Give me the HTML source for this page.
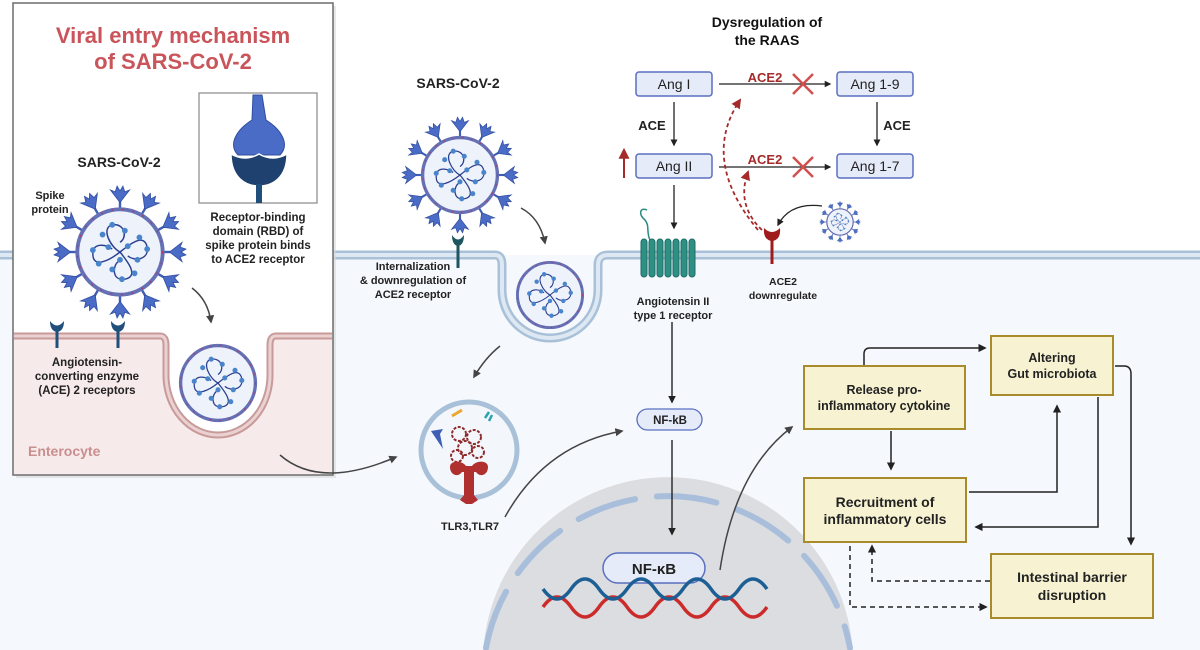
<!DOCTYPE html>
<html><head><meta charset="utf-8"><style>
html,body{margin:0;padding:0;background:#fff;width:1200px;height:650px;overflow:hidden;}
svg{display:block;font-family:"Liberation Sans",Arial,sans-serif;}
.b{font-weight:bold;}
</style></head><body>
<svg width="1200" height="650" viewBox="0 0 1200 650" xmlns="http://www.w3.org/2000/svg">
<defs>
<marker id="ah" viewBox="0 0 10 10" refX="8" refY="5" markerWidth="5.5" markerHeight="5.5" orient="auto"><path d="M0,0 L10,5 L0,10 z" fill="#222"/></marker>
<marker id="ahg" viewBox="0 0 10 10" refX="8" refY="5" markerWidth="5.5" markerHeight="5.5" orient="auto"><path d="M0,0 L10,5 L0,10 z" fill="#444"/></marker>
<marker id="ahr" viewBox="0 0 10 10" refX="8" refY="5" markerWidth="5.5" markerHeight="5.5" orient="auto"><path d="M0,0 L10,5 L0,10 z" fill="#a52a2a"/></marker>
<g id="spike"><line x1="0" y1="-45" x2="0" y2="-53" stroke="#3f5fb5" stroke-width="2.5"/><path d="M0,-51 L-10,-64 L-5,-62 L-3,-68 L0,-63 L3,-68 L5,-62 L10,-64 Z" fill="#4a6cc7" stroke="#2f4c9e" stroke-width="0.8"/></g>
<g id="virus">
<use href="#spike"/><use href="#spike" transform="rotate(30)"/><use href="#spike" transform="rotate(60)"/><use href="#spike" transform="rotate(90)"/><use href="#spike" transform="rotate(120)"/><use href="#spike" transform="rotate(150)"/><use href="#spike" transform="rotate(180)"/><use href="#spike" transform="rotate(210)"/><use href="#spike" transform="rotate(240)"/><use href="#spike" transform="rotate(270)"/><use href="#spike" transform="rotate(300)"/><use href="#spike" transform="rotate(330)"/>
<use href="#vcore"/>
</g>
<g id="vcore">
<circle r="44" fill="#eef3fb" stroke="#6570b5" stroke-width="4"/>
<circle r="44" fill="none" stroke="#b0366a" stroke-width="1.2" stroke-dasharray="2 9"/>
<g fill="none" stroke="#2b3f8f" stroke-width="1.5">
<path d="M0,0 C-10,-5 -20,-25 -8,-28 C5,-30 8,-15 0,-10"/>
<path d="M0,0 C10,-8 25,-20 28,-5 C30,8 15,10 8,4"/>
<path d="M0,0 C8,10 20,25 5,28 C-8,30 -8,15 -2,10"/>
<path d="M0,0 C-10,8 -28,18 -28,2 C-28,-10 -15,-8 -8,-3"/>
</g>
<g fill="#4a85cc">
<circle cx="-8" cy="-28" r="3"/><circle cx="-18" cy="-18" r="3"/><circle cx="5" cy="-22" r="3"/><circle cx="20" cy="-15" r="3"/><circle cx="28" cy="-3" r="3"/><circle cx="18" cy="8" r="3"/><circle cx="15" cy="22" r="3"/><circle cx="2" cy="28" r="3"/><circle cx="-8" cy="18" r="3"/><circle cx="-22" cy="12" r="3"/><circle cx="-28" cy="-2" r="3"/><circle cx="-12" cy="-5" r="3"/><circle cx="8" cy="-6" r="3"/><circle cx="0" cy="8" r="3"/>
</g>
</g>
</defs>

<rect x="0" y="255" width="1200" height="395" fill="#f5f8fc"/>
<path d="M0,255 L495,255 Q502,255 502,265 L502,290 A48,48 0 0 0 598,290 L598,265 Q598,255 608,255 L1200,255" fill="none" stroke="#a9c1d8" stroke-width="9"/>
<path d="M0,255 L495,255 Q502,255 502,265 L502,290 A48,48 0 0 0 598,290 L598,265 Q598,255 608,255 L1200,255" fill="none" stroke="#dde8f2" stroke-width="4"/>

<path d="M483.4,650 A185,185 0 0 1 852.6,650 Z" fill="#dcdde0"/>
<path d="M486,648 A185,185 0 0 1 850,648" fill="none" stroke="#a8bedb" stroke-width="6" stroke-dasharray="60 22" stroke-linecap="round"/>

<rect x="16" y="6" width="320" height="472" fill="#d8d8d8" opacity="0.6"/>
<rect x="13" y="3" width="320" height="472" fill="#fff" stroke="#6b6b6b" stroke-width="1.5"/>
<path d="M14,336 L160,336 Q166,336 166,345 L166,375 A52,60 0 0 0 270,375 L270,345 Q270,336 276,336 L332,336 L332,474 L14,474 Z" fill="#f7eaea"/>
<path d="M14,336 L160,336 Q166,336 166,345 L166,375 A52,60 0 0 0 270,375 L270,345 Q270,336 276,336 L332,336" fill="none" stroke="#c89a9a" stroke-width="7"/>
<path d="M14,336 L160,336 Q166,336 166,345 L166,375 A52,60 0 0 0 270,375 L270,345 Q270,336 276,336 L332,336" fill="none" stroke="#ebd2d2" stroke-width="3"/>
<text x="173" y="43" text-anchor="middle" class="b" font-size="22" fill="#c9555b">Viral entry mechanism</text>
<text x="173" y="69" text-anchor="middle" class="b" font-size="22" fill="#c9555b">of SARS-CoV-2</text>
<rect x="199" y="93" width="118" height="110" fill="#fff" stroke="#888" stroke-width="1.2"/>
<path d="M253,95 L262,95 L266,120 C282,130 290,145 280,155 L238,155 C228,145 236,130 252,120 Z" fill="#4a6cc7" stroke="#2f4c9e"/>
<path d="M231,154 Q245,162 259,154 Q273,162 287,154 C287,178 272,186 259,186 C246,186 231,178 231,154 Z" fill="#1f4170" stroke="#fff" stroke-width="1.5"/>
<rect x="256" y="184" width="6" height="19" fill="#1f4f7a"/>
<g class="b" font-size="11.5" fill="#222" text-anchor="middle">
<text x="258" y="221">Receptor-binding</text><text x="258" y="235">domain (RBD) of</text><text x="258" y="249">spike protein binds</text><text x="258" y="263">to ACE2 receptor</text>
</g>
<text x="119" y="167" text-anchor="middle" class="b" font-size="14" fill="#222">SARS-CoV-2</text>
<text x="50" y="199" text-anchor="middle" class="b" font-size="11" fill="#222">Spike</text>
<text x="50" y="213" text-anchor="middle" class="b" font-size="11" fill="#222">protein</text>
<use href="#virus" transform="translate(120,252) scale(0.97)"/>
<g fill="#1f4f7a"><path d="M50,321 Q57,330 64,321 Q64,331 57,332 Q50,331 50,321Z"/><rect x="55.5" y="330" width="3" height="18"/>
<path d="M111,321 Q118,330 125,321 Q125,331 118,332 Q111,331 111,321Z"/><rect x="116.5" y="330" width="3" height="18"/></g>
<g class="b" font-size="11.5" fill="#222" text-anchor="middle"><text x="87" y="366">Angiotensin-</text><text x="87" y="380">converting enzyme</text><text x="87" y="394">(ACE) 2 receptors</text></g>
<use href="#vcore" transform="translate(218,383) scale(0.85)"/>
<text x="28" y="456" class="b" font-size="14" fill="#c98f8f">Enterocyte</text>
<path d="M192,288 Q208,300 211,322" fill="none" stroke="#444" stroke-width="1.5" marker-end="url(#ahg)"/>
<path d="M280,455 Q320,490 396,457" fill="none" stroke="#444" stroke-width="1.5" marker-end="url(#ahg)"/>

<text x="458" y="88" text-anchor="middle" class="b" font-size="14" fill="#222">SARS-CoV-2</text>
<use href="#virus" transform="translate(460,175) scale(0.85)"/>
<path d="M452,235 Q458,244 464,235 Q464,245 458,246 Q452,245 452,235Z" fill="#1d5560"/>
<rect x="456.5" y="244" width="3" height="24" fill="#1d5560"/>
<g class="b" font-size="11" fill="#222" text-anchor="middle"><text x="413" y="270">Internalization</text><text x="413" y="284">&amp; downregulation of</text><text x="413" y="298">ACE2 receptor</text></g>
<use href="#vcore" transform="translate(550,295) scale(0.74)"/>
<path d="M521,208 Q540,218 545,243" fill="none" stroke="#444" stroke-width="1.5" marker-end="url(#ahg)"/>
<path d="M500,346 Q485,358 474,377" fill="none" stroke="#444" stroke-width="1.5" marker-end="url(#ahg)"/>
<circle cx="469" cy="450" r="48" fill="#f3f6fb" stroke="#a9c1d8" stroke-width="5"/>
<line x1="452" y1="416" x2="462" y2="410" stroke="#e8a830" stroke-width="3"/>
<path d="M485,418 l4,-6 M489,421 l3,-6" stroke="#2aa3b0" stroke-width="2.5"/>
<path d="M431,431 l12,-2 l-3,5 l3,15 z" fill="#3f5fb5"/>
<g fill="none" stroke="#8e2b2b" stroke-width="2" stroke-dasharray="3 1.5"><circle cx="459" cy="434" r="7"/><circle cx="474" cy="437" r="7"/><circle cx="465" cy="448" r="7"/><circle cx="478" cy="452" r="6"/><circle cx="457" cy="456" r="6"/></g>
<path d="M450,467 C450,460 462,460 466,466 L472,466 C476,460 488,460 488,467 C488,475 480,478 476,472 L474,472 L474,495 L478,500 L472,504 L466,504 L460,500 L464,495 L464,472 L462,472 C458,478 450,475 450,467Z" fill="#b03030"/>
<text x="470" y="530" text-anchor="middle" class="b" font-size="11" fill="#222">TLR3,TLR7</text>
<path d="M505,517 Q545,445 622,431" fill="none" stroke="#444" stroke-width="1.5" marker-end="url(#ahg)"/>

<text x="767" y="27" text-anchor="middle" class="b" font-size="14" fill="#111">Dysregulation of</text>
<text x="767" y="45" text-anchor="middle" class="b" font-size="14" fill="#111">the RAAS</text>
<g fill="#e6ebfa" stroke="#5a6fc0" stroke-width="1.5">
<rect x="636" y="72" width="76" height="24" rx="3"/><rect x="837" y="72" width="76" height="24" rx="3"/>
<rect x="636" y="154" width="76" height="24" rx="3"/><rect x="837" y="154" width="76" height="24" rx="3"/>
</g>
<g font-size="14" fill="#222" text-anchor="middle"><text x="674" y="89">Ang I</text><text x="875" y="89">Ang 1-9</text><text x="674" y="171">Ang II</text><text x="875" y="171">Ang 1-7</text></g>
<line x1="719" y1="84" x2="830" y2="84" stroke="#222" stroke-width="1.2" marker-end="url(#ah)"/>
<line x1="719" y1="167" x2="830" y2="167" stroke="#222" stroke-width="1.2" marker-end="url(#ah)"/>
<text x="765" y="82" text-anchor="middle" class="b" font-size="13" fill="#a52a2a">ACE2</text>
<text x="765" y="164" text-anchor="middle" class="b" font-size="13" fill="#a52a2a">ACE2</text>
<g stroke="#d05050" stroke-width="2.5"><path d="M793,74 L813,94 M813,74 L793,94"/><path d="M793,157 L813,177 M813,157 L793,177"/></g>
<line x1="674" y1="102" x2="674" y2="145" stroke="#222" stroke-width="1.3" marker-end="url(#ah)"/>
<line x1="877" y1="102" x2="877" y2="145" stroke="#222" stroke-width="1.3" marker-end="url(#ah)"/>
<text x="652" y="130" text-anchor="middle" class="b" font-size="13" fill="#222">ACE</text>
<text x="897" y="130" text-anchor="middle" class="b" font-size="13" fill="#222">ACE</text>
<line x1="624" y1="178" x2="624" y2="150" stroke="#a52a2a" stroke-width="2" marker-end="url(#ahr)"/>
<line x1="674" y1="185" x2="674" y2="228" stroke="#222" stroke-width="1.3" marker-end="url(#ah)"/>
<path d="M650,240 C646,232 650,226 645,220 C638,214 640,207 647,210" fill="none" stroke="#2a8a80" stroke-width="1.5"/>
<g fill="#2e8f84" stroke="#1f6d65" stroke-width="1"><rect x="641" y="239" width="6" height="38" rx="3"/><rect x="649" y="239" width="6" height="38" rx="3"/><rect x="657" y="239" width="6" height="38" rx="3"/><rect x="665" y="239" width="6" height="38" rx="3"/><rect x="673" y="239" width="6" height="38" rx="3"/><rect x="681" y="239" width="6" height="38" rx="3"/><rect x="689" y="239" width="6" height="38" rx="3"/></g>
<text x="673" y="305" text-anchor="middle" class="b" font-size="11" fill="#222">Angiotensin II</text>
<text x="673" y="319" text-anchor="middle" class="b" font-size="11" fill="#222">type 1 receptor</text>
<path d="M764,228 Q772,236 780,228 Q781,240 772,241 Q763,240 764,228Z" fill="#a01c1c"/>
<rect x="770.5" y="240" width="3" height="24" fill="#a01c1c"/>
<text x="783" y="285" text-anchor="middle" class="b" font-size="10.5" fill="#222">ACE2</text>
<text x="783" y="299" text-anchor="middle" class="b" font-size="10.5" fill="#222">downregulate</text>
<use href="#virus" transform="translate(840,222) scale(0.3)"/>
<path d="M822,206 Q790,202 778,225" fill="none" stroke="#222" stroke-width="1.3" marker-end="url(#ah)"/>
<path d="M758,230 Q700,160 740,100" fill="none" stroke="#a52a2a" stroke-width="1.8" stroke-dasharray="4 3" marker-end="url(#ahr)"/>
<path d="M762,230 Q736,205 748,172" fill="none" stroke="#a52a2a" stroke-width="1.8" stroke-dasharray="4 3" marker-end="url(#ahr)"/>

<line x1="672" y1="322" x2="672" y2="402" stroke="#222" stroke-width="1.4" marker-end="url(#ah)"/>
<rect x="637" y="409" width="65" height="21" rx="10.5" fill="#e6ebfa" stroke="#5a6fc0" stroke-width="1.3"/>
<text x="670" y="424" text-anchor="middle" class="b" font-size="11.5" fill="#222">NF-kB</text>
<line x1="672" y1="440" x2="672" y2="534" stroke="#222" stroke-width="1.4" marker-end="url(#ah)"/>
<rect x="603" y="553" width="102" height="30" rx="15" fill="#e6ebfa" stroke="#5a6fc0" stroke-width="1.5"/>
<text x="654" y="574" text-anchor="middle" class="b" font-size="15" fill="#222">NF-κB</text>
<path d="M543,607 q14,-20 28,0 t28,0 t28,0 t28,0 t28,0 t28,0 t28,0 t28,0" fill="none" stroke="#cc2b2b" stroke-width="3.5"/>
<path d="M543,589 q14,20 28,0 t28,0 t28,0 t28,0 t28,0 t28,0 t28,0 t28,0" fill="none" stroke="#1c5f95" stroke-width="3.5"/>
<path d="M720,570 Q735,470 792,427" fill="none" stroke="#444" stroke-width="1.5" marker-end="url(#ahg)"/>

<g fill="#f7f3d2" stroke="#a88c2c" stroke-width="2">
<rect x="804" y="366" width="161" height="63"/>
<rect x="991" y="336" width="122" height="59"/>
<rect x="804" y="478" width="162" height="64"/>
<rect x="991" y="554" width="162" height="64"/>
</g>
<g class="b" fill="#222" text-anchor="middle">
<text x="884" y="394" font-size="12.5">Release pro-</text><text x="884" y="410" font-size="12.5">inflammatory cytokine</text>
<text x="1052" y="362" font-size="12.5">Altering</text><text x="1052" y="378" font-size="12.5">Gut microbiota</text>
<text x="885" y="507" font-size="14">Recruitment of</text><text x="885" y="524" font-size="14">inflammatory cells</text>
<text x="1072" y="582" font-size="14">Intestinal barrier</text><text x="1072" y="600" font-size="14">disruption</text>
</g>
<g fill="none" stroke="#222" stroke-width="1.5">
<path d="M864,365 L864,354 Q864,348 870,348 L985,348" marker-end="url(#ah)"/>
<path d="M1115,366 L1124,366 Q1131,366 1131,374 L1131,544" marker-end="url(#ah)"/>
<path d="M891,431 L891,469" marker-end="url(#ah)"/>
<path d="M969,492 L1057,492 L1057,406" marker-end="url(#ah)"/>
<path d="M1098,397 L1098,527 L976,527" marker-end="url(#ah)"/>
<path d="M990,581 L872,581 L872,546" stroke-dasharray="5 4" marker-end="url(#ah)"/>
<path d="M850,546 L850,607 L986,607" stroke-dasharray="5 4" marker-end="url(#ah)"/>
</g>
</svg>
</body></html>
